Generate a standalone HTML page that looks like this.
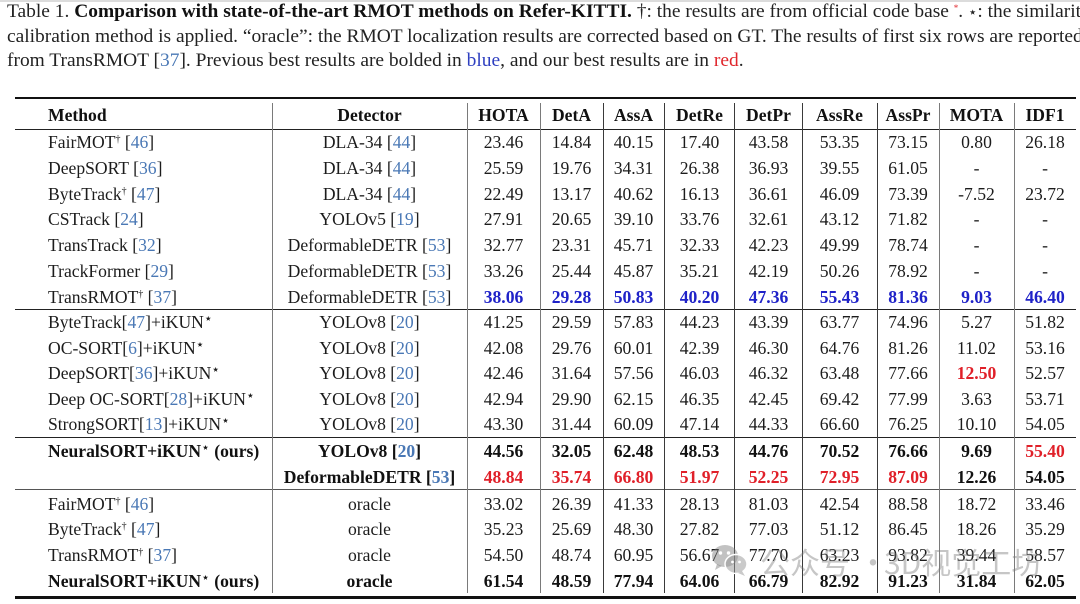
<!DOCTYPE html>
<html><head><meta charset="utf-8">
<style>
html,body{margin:0;padding:0;background:#fff;}
#w{position:relative;width:1080px;height:604px;overflow:hidden;background:#fff;font-family:"Liberation Serif","Noto Serif CJK SC",serif;color:#1c1c1c;}
.topband{position:absolute;left:0;top:0;width:1080px;height:2px;background:#dcdcdc;}
.cap{position:absolute;left:7px;top:0px;width:1300px;font-size:19.45px;line-height:24.5px;white-space:nowrap;color:#222;}
.cap b{color:#111;}
.cap .ct{color:#4a78b5;}
.blueW{color:#2e3fc0;}
.redW{color:#e0262c;}
.hl{position:absolute;left:15px;width:1061px;background:#222;}
.vl{position:absolute;top:103px;height:490px;width:1px;}
.g{background:#7a7a7a;}
.d{background:#3a3a3a;}
.r{position:absolute;left:0;width:1080px;height:26px;line-height:26px;font-size:17.6px;}
.r > span{position:absolute;top:0;text-align:center;white-space:nowrap;}
.r > span.c0{left:48px;text-align:left;}
.c1{left:272px;width:195px;}
.c2{left:467px;width:73px;}
.c3{left:540px;width:63px;}
.c4{left:603px;width:61px;}
.c5{left:664px;width:71px;}
.c6{left:735px;width:67px;}
.c7{left:802px;width:75px;}
.c8{left:877px;width:62px;}
.c9{left:939px;width:75px;}
.c10{left:1014px;width:62px;}
.b{font-weight:bold;color:#111;}
.ct{color:#4a78b5;}
.bl{font-weight:bold;color:#1f22c8;}
.rd{font-weight:bold;color:#e02029;}
sup{font-size:10px;line-height:0;vertical-align:6px;}
.st{font-family:"DejaVu Sans",sans-serif;font-size:14px;vertical-align:5px;line-height:0;font-weight:normal;}
.wm{position:absolute;top:542px;height:38px;font-family:"Noto Sans CJK SC","WenQuanYi Zen Hei",sans-serif;font-size:30px;line-height:38px;color:rgba(120,120,120,0.42);white-space:nowrap;}
</style></head><body>
<div id="w">
<div class="topband"></div>
<div class="cap">Table 1. <b>Comparison with state-of-the-art RMOT methods on Refer-KITTI.</b> †: the results are from official code base <sup class="redW" style="font-size:9px;">*</sup>. <span style="font-family:'DejaVu Sans',sans-serif;font-size:15px;">⋆</span>: the similarity<br>calibration method is applied. “oracle”: the RMOT localization results are corrected based on GT. The results of first six rows are reported<br>from TransRMOT [<span class="ct">37</span>]. Previous best results are bolded in <span class="blueW">blue</span>, and our best results are in <span class="redW">red</span>.</div>

<!-- horizontal rules -->
<div class="hl" style="top:97px;height:2px;background:#111;"></div>
<div class="hl" style="top:129px;height:1px;"></div>
<div class="hl" style="top:309px;height:1px;"></div>
<div class="hl" style="top:437px;height:1px;"></div>
<div class="hl" style="top:489px;height:1px;background:#555;"></div>
<div class="hl" style="top:596px;height:3px;background:#111;"></div>

<!-- vertical lines -->
<div class="vl g" style="left:272px;"></div>
<div class="vl g" style="left:467px;"></div>
<div class="vl g" style="left:540px;"></div>
<div class="vl d" style="left:603px;"></div>
<div class="vl d" style="left:664px;"></div>
<div class="vl d" style="left:734px;"></div>
<div class="vl d" style="left:802px;"></div>
<div class="vl d" style="left:877px;"></div>
<div class="vl g" style="left:939px;"></div>
<div class="vl g" style="left:1014px;"></div>

<!-- header -->
<div class="r b" style="top:101.5px;"><span class="c0">Method</span><span class="c1">Detector</span><span class="c2">HOTA</span><span class="c3">DetA</span><span class="c4">AssA</span><span class="c5">DetRe</span><span class="c6">DetPr</span><span class="c7">AssRe</span><span class="c8">AssPr</span><span class="c9">MOTA</span><span class="c10">IDF1</span></div>

<!-- group 1 -->
<div class="r" style="top:129px;"><span class="c0">FairMOT<sup>†</sup> [<span class="ct">46</span>]</span><span class="c1">DLA-34 [<span class="ct">44</span>]</span><span class="c2">23.46</span><span class="c3">14.84</span><span class="c4">40.15</span><span class="c5">17.40</span><span class="c6">43.58</span><span class="c7">53.35</span><span class="c8">73.15</span><span class="c9">0.80</span><span class="c10">26.18</span></div>
<div class="r" style="top:154.8px;"><span class="c0">DeepSORT [<span class="ct">36</span>]</span><span class="c1">DLA-34 [<span class="ct">44</span>]</span><span class="c2">25.59</span><span class="c3">19.76</span><span class="c4">34.31</span><span class="c5">26.38</span><span class="c6">36.93</span><span class="c7">39.55</span><span class="c8">61.05</span><span class="c9">-</span><span class="c10">-</span></div>
<div class="r" style="top:180.6px;"><span class="c0">ByteTrack<sup>†</sup> [<span class="ct">47</span>]</span><span class="c1">DLA-34 [<span class="ct">44</span>]</span><span class="c2">22.49</span><span class="c3">13.17</span><span class="c4">40.62</span><span class="c5">16.13</span><span class="c6">36.61</span><span class="c7">46.09</span><span class="c8">73.39</span><span class="c9">-7.52</span><span class="c10">23.72</span></div>
<div class="r" style="top:206.4px;"><span class="c0">CSTrack [<span class="ct">24</span>]</span><span class="c1">YOLOv5 [<span class="ct">19</span>]</span><span class="c2">27.91</span><span class="c3">20.65</span><span class="c4">39.10</span><span class="c5">33.76</span><span class="c6">32.61</span><span class="c7">43.12</span><span class="c8">71.82</span><span class="c9">-</span><span class="c10">-</span></div>
<div class="r" style="top:232.2px;"><span class="c0">TransTrack [<span class="ct">32</span>]</span><span class="c1">DeformableDETR [<span class="ct">53</span>]</span><span class="c2">32.77</span><span class="c3">23.31</span><span class="c4">45.71</span><span class="c5">32.33</span><span class="c6">42.23</span><span class="c7">49.99</span><span class="c8">78.74</span><span class="c9">-</span><span class="c10">-</span></div>
<div class="r" style="top:258px;"><span class="c0">TrackFormer [<span class="ct">29</span>]</span><span class="c1">DeformableDETR [<span class="ct">53</span>]</span><span class="c2">33.26</span><span class="c3">25.44</span><span class="c4">45.87</span><span class="c5">35.21</span><span class="c6">42.19</span><span class="c7">50.26</span><span class="c8">78.92</span><span class="c9">-</span><span class="c10">-</span></div>
<div class="r" style="top:283.8px;"><span class="c0">TransRMOT<sup>†</sup> [<span class="ct">37</span>]</span><span class="c1">DeformableDETR [<span class="ct">53</span>]</span><span class="c2 bl">38.06</span><span class="c3 bl">29.28</span><span class="c4 bl">50.83</span><span class="c5 bl">40.20</span><span class="c6 bl">47.36</span><span class="c7 bl">55.43</span><span class="c8 bl">81.36</span><span class="c9 bl">9.03</span><span class="c10 bl">46.40</span></div>

<!-- group 2 -->
<div class="r" style="top:309px;"><span class="c0">ByteTrack[<span class="ct">47</span>]+iKUN<span class="st">⋆</span></span><span class="c1">YOLOv8 [<span class="ct">20</span>]</span><span class="c2">41.25</span><span class="c3">29.59</span><span class="c4">57.83</span><span class="c5">44.23</span><span class="c6">43.39</span><span class="c7">63.77</span><span class="c8">74.96</span><span class="c9">5.27</span><span class="c10">51.82</span></div>
<div class="r" style="top:334.6px;"><span class="c0">OC-SORT[<span class="ct">6</span>]+iKUN<span class="st">⋆</span></span><span class="c1">YOLOv8 [<span class="ct">20</span>]</span><span class="c2">42.08</span><span class="c3">29.76</span><span class="c4">60.01</span><span class="c5">42.39</span><span class="c6">46.30</span><span class="c7">64.76</span><span class="c8">81.26</span><span class="c9">11.02</span><span class="c10">53.16</span></div>
<div class="r" style="top:360.2px;"><span class="c0">DeepSORT[<span class="ct">36</span>]+iKUN<span class="st">⋆</span></span><span class="c1">YOLOv8 [<span class="ct">20</span>]</span><span class="c2">42.46</span><span class="c3">31.64</span><span class="c4">57.56</span><span class="c5">46.03</span><span class="c6">46.32</span><span class="c7">63.48</span><span class="c8">77.66</span><span class="c9 rd">12.50</span><span class="c10">52.57</span></div>
<div class="r" style="top:385.8px;"><span class="c0">Deep OC-SORT[<span class="ct">28</span>]+iKUN<span class="st">⋆</span></span><span class="c1">YOLOv8 [<span class="ct">20</span>]</span><span class="c2">42.94</span><span class="c3">29.90</span><span class="c4">62.15</span><span class="c5">46.35</span><span class="c6">42.45</span><span class="c7">69.42</span><span class="c8">77.99</span><span class="c9">3.63</span><span class="c10">53.71</span></div>
<div class="r" style="top:411.4px;"><span class="c0">StrongSORT[<span class="ct">13</span>]+iKUN<span class="st">⋆</span></span><span class="c1">YOLOv8 [<span class="ct">20</span>]</span><span class="c2">43.30</span><span class="c3">31.44</span><span class="c4">60.09</span><span class="c5">47.14</span><span class="c6">44.33</span><span class="c7">66.60</span><span class="c8">76.25</span><span class="c9">10.10</span><span class="c10">54.05</span></div>

<!-- group 3 -->
<div class="r b" style="top:438px;"><span class="c0">NeuralSORT+iKUN<span class="st">⋆</span> (ours)</span><span class="c1">YOLOv8 [<span class="ct">20</span>]</span><span class="c2">44.56</span><span class="c3">32.05</span><span class="c4">62.48</span><span class="c5">48.53</span><span class="c6">44.76</span><span class="c7">70.52</span><span class="c8">76.66</span><span class="c9">9.69</span><span class="c10 rd">55.40</span></div>
<div class="r b" style="top:463.5px;"><span class="c1">DeformableDETR [<span class="ct">53</span>]</span><span class="c2 rd">48.84</span><span class="c3 rd">35.74</span><span class="c4 rd">66.80</span><span class="c5 rd">51.97</span><span class="c6 rd">52.25</span><span class="c7 rd">72.95</span><span class="c8 rd">87.09</span><span class="c9">12.26</span><span class="c10">54.05</span></div>

<!-- group 4 -->
<div class="r" style="top:490.5px;"><span class="c0">FairMOT<sup>†</sup> [<span class="ct">46</span>]</span><span class="c1">oracle</span><span class="c2">33.02</span><span class="c3">26.39</span><span class="c4">41.33</span><span class="c5">28.13</span><span class="c6">81.03</span><span class="c7">42.54</span><span class="c8">88.58</span><span class="c9">18.72</span><span class="c10">33.46</span></div>
<div class="r" style="top:516.2px;"><span class="c0">ByteTrack<sup>†</sup> [<span class="ct">47</span>]</span><span class="c1">oracle</span><span class="c2">35.23</span><span class="c3">25.69</span><span class="c4">48.30</span><span class="c5">27.82</span><span class="c6">77.03</span><span class="c7">51.12</span><span class="c8">86.45</span><span class="c9">18.26</span><span class="c10">35.29</span></div>
<div class="r" style="top:541.9px;"><span class="c0">TransRMOT<sup>†</sup> [<span class="ct">37</span>]</span><span class="c1">oracle</span><span class="c2">54.50</span><span class="c3">48.74</span><span class="c4">60.95</span><span class="c5">56.67</span><span class="c6">77.70</span><span class="c7">63.23</span><span class="c8">93.82</span><span class="c9">39.44</span><span class="c10">58.57</span></div>
<div class="r b" style="top:567.6px;"><span class="c0">NeuralSORT+iKUN<span class="st">⋆</span> (ours)</span><span class="c1">oracle</span><span class="c2">61.54</span><span class="c3">48.59</span><span class="c4">77.94</span><span class="c5">64.06</span><span class="c6">66.79</span><span class="c7">82.92</span><span class="c8">91.23</span><span class="c9">31.84</span><span class="c10">62.05</span></div>

<!-- watermark -->
<svg style="position:absolute;left:711px;top:543px;" width="38" height="34" viewBox="0 0 38 34">
<ellipse cx="14" cy="13" rx="13" ry="11" fill="rgba(120,120,120,0.45)"/>
<path d="M6 21 L4 27 L11 23 Z" fill="rgba(120,120,120,0.45)"/>
<ellipse cx="25" cy="21" rx="11" ry="9.5" fill="rgba(150,150,150,0.5)" stroke="#fff" stroke-width="1.5"/>
<path d="M31 28 L34 33 L27 30 Z" fill="rgba(150,150,150,0.5)"/>
<circle cx="9.5" cy="10" r="1.7" fill="#fff"/><circle cx="17.5" cy="10" r="1.7" fill="#fff"/>
<circle cx="21.5" cy="19" r="1.4" fill="#fff"/><circle cx="28.5" cy="19" r="1.4" fill="#fff"/>
</svg>
<div class="wm" style="left:760px;">公众号</div>
<div class="wm" style="left:858px;">·</div>
<div class="wm" style="left:884px;">3D视觉工坊</div>
</div>
</body></html>
